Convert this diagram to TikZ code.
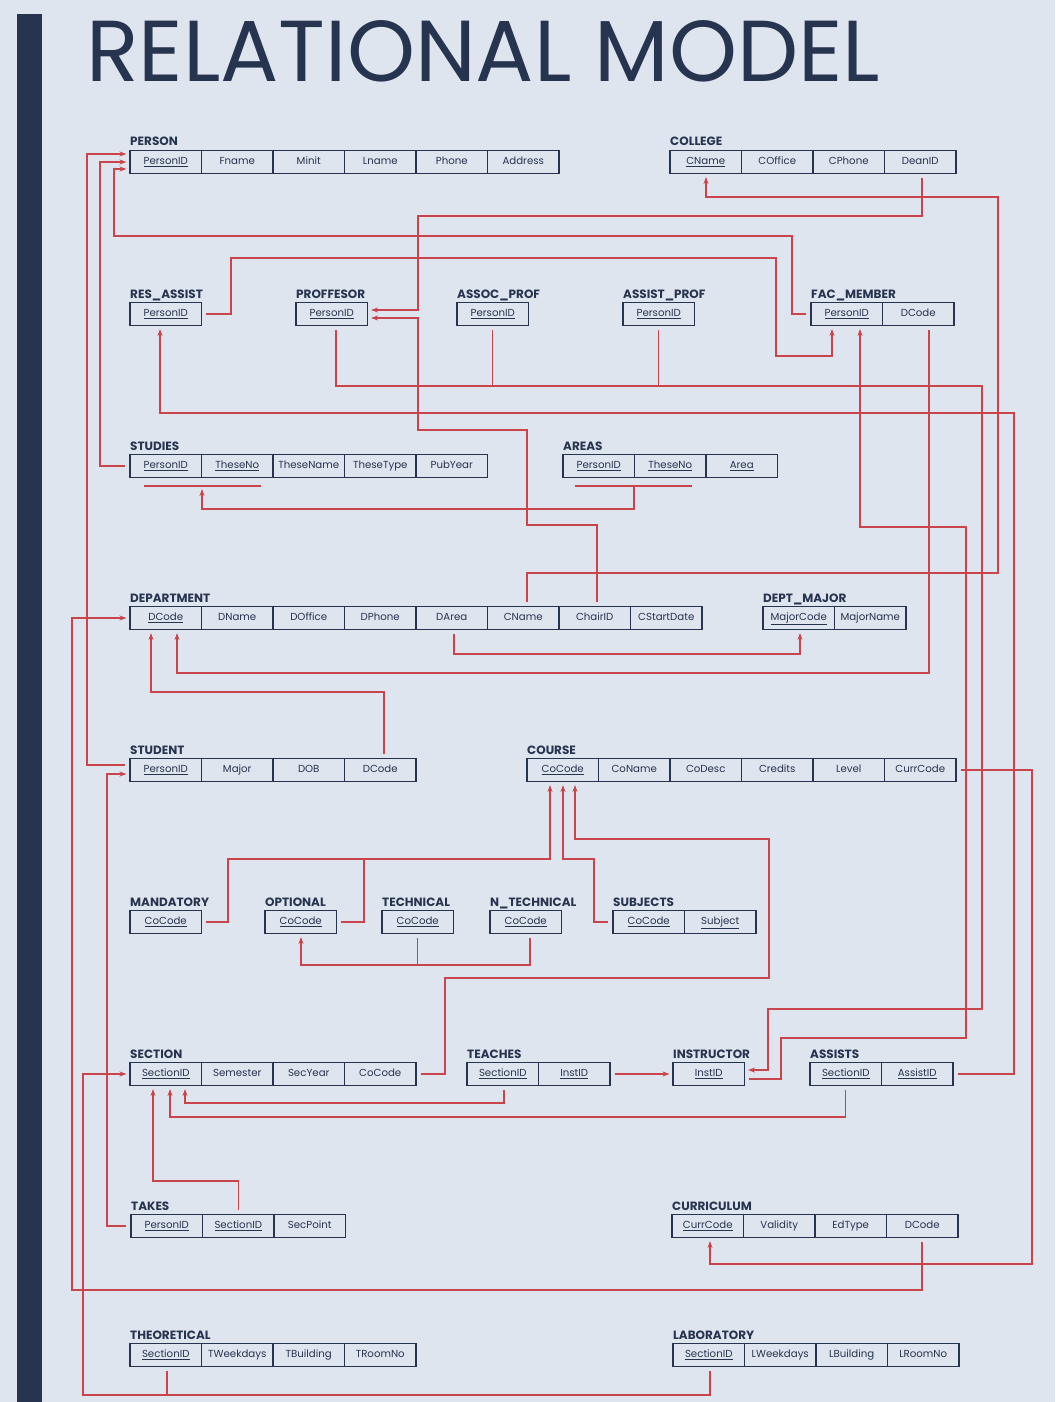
\documentclass[tikz,border=0pt]{standalone}
\usepackage{fontspec}
\setmainfont{Poppins}
\usetikzlibrary{arrows.meta}
\definecolor{bg}{HTML}{DFE5EF}
\definecolor{ink}{HTML}{27344F}
\definecolor{fkred}{HTML}{C9454B}
\newcommand\ulk[1]{\underline{#1}}
\newcommand\mktable[5]{%
  \node[tlabel] (#1-t) at (#2,#3-16) {#4};
  \foreach \f [count=\i] in {#5} {
    \node[cell] (#1-\i) at ({#2+(\i-0.5)*71.5},#3) {\f};
  }
}
\tikzset{
  cell/.style={draw=ink, line width=1.1pt, minimum width=71.5pt, minimum height=23pt,
    inner sep=0pt, text=ink, text height=7.5pt, text depth=2.5pt, font=\fontsize{10.2}{12}\selectfont},
  tlabel/.style={anchor=base west, inner sep=0pt, text=ink, font=\fontsize{12}{14}\selectfont\bfseries},
  fk/.style={draw=fkred, line width=1.2pt, shorten <=4pt, shorten >=3pt},
  ar/.style={fk, -{Stealth[length=7pt,width=5pt]}},
  ln/.style={draw=fkred, line width=1.2pt}
}
\begin{document}
\begin{tikzpicture}[x=1pt,y=-1pt]
\useasboundingbox (0,0) rectangle (1055,1402);
\fill[bg] (0,0) rectangle (1055,1402);
\fill[ink] (17,14) rectangle (42,1402);
\node[anchor=south west, inner sep=0pt, text=ink] (title) at (86,82)
  {\resizebox{794pt}{!}{\fontsize{80}{80}\selectfont RELATIONAL MODEL}};

\mktable{PERSON}{130}{162}{PERSON}{\ulk{PersonID},Fname,Minit,Lname,Phone,Address}
\mktable{COLLEGE}{670}{162}{COLLEGE}{\ulk{CName},COffice,CPhone,DeanID}
\mktable{RES}{130}{314}{RES\_ASSIST}{\ulk{PersonID}}
\mktable{PROF}{296}{314}{PROFFESOR}{\ulk{PersonID}}
\mktable{ASSOC}{457}{314}{ASSOC\_PROF}{\ulk{PersonID}}
\mktable{ASSIST}{623}{314}{ASSIST\_PROF}{\ulk{PersonID}}
\mktable{FAC}{811}{314}{FAC\_MEMBER}{\ulk{PersonID},DCode}
\mktable{STUDIES}{130}{466}{STUDIES}{\ulk{PersonID},\ulk{TheseNo},TheseName,TheseType,PubYear}
\mktable{AREAS}{563}{466}{AREAS}{\ulk{PersonID},\ulk{TheseNo},\ulk{Area}}
\mktable{DEPT}{130}{618}{DEPARTMENT}{\ulk{DCode},DName,DOffice,DPhone,DArea,CName,ChairID,CStartDate}
\mktable{DM}{763}{618}{DEPT\_MAJOR}{\ulk{MajorCode},MajorName}
\mktable{STUDENT}{130}{770}{STUDENT}{\ulk{PersonID},Major,DOB,DCode}
\mktable{COURSE}{527}{770}{COURSE}{\ulk{CoCode},CoName,CoDesc,Credits,Level,CurrCode}
\mktable{MAND}{130}{922}{MANDATORY}{\ulk{CoCode}}
\mktable{OPT}{265}{922}{OPTIONAL}{\ulk{CoCode}}
\mktable{TECH}{382}{922}{TECHNICAL}{\ulk{CoCode}}
\mktable{NTECH}{490}{922}{N\_TECHNICAL}{\ulk{CoCode}}
\mktable{SUBJ}{613}{922}{SUBJECTS}{\ulk{CoCode},\ulk{Subject}}
\mktable{SEC}{130}{1074}{SECTION}{\ulk{SectionID},Semester,SecYear,CoCode}
\mktable{TEACH}{467}{1074}{TEACHES}{\ulk{SectionID},\ulk{InstID}}
\mktable{INSTR}{673}{1074}{INSTRUCTOR}{\ulk{InstID}}
\mktable{ASSISTS}{810}{1074}{ASSISTS}{\ulk{SectionID},\ulk{AssistID}}
\mktable{TAKES}{131}{1226}{TAKES}{\ulk{PersonID},\ulk{SectionID},SecPoint}
\mktable{CURR}{672}{1226}{CURRICULUM}{\ulk{CurrCode},Validity,EdType,DCode}
\mktable{THEO}{130}{1355}{THEORETICAL}{\ulk{SectionID},TWeekdays,TBuilding,TRoomNo}
\mktable{LAB}{673}{1355}{LABORATORY}{\ulk{SectionID},LWeekdays,LBuilding,LRoomNo}

% STUDENT -> PERSON
\draw[ar] (STUDENT-1.west |- 0,765) -- (87,765) -- (87,154) -- (PERSON-1.west |- 0,154);
% STUDIES -> PERSON
\draw[ar] (STUDIES-1.west) -- (100,466) -- (100,162) -- (PERSON-1.west);
% FAC_MEMBER -> PERSON
\draw[ar] (FAC-1.west) -- (792,314) -- (792,236) -- (114,236) -- (114,169) -- (PERSON-1.west |- 0,169);
% RES_ASSIST -> FAC_MEMBER
\draw[ar] (RES-1.east) -- (231,314) -- (231,258) -- (776,258) -- (776,356) -- (832,356) -- (FAC-1.south -| 832,0);
% DeanID -> PROFFESOR
\draw[ar] (COLLEGE-4.south -| 922,0) -- (922,216) -- (418,216) -- (418,310) -- (PROF-1.east |- 0,310);
% ChairID -> PROFFESOR
\draw[ar] (DEPT-7.north -| 597,0) -- (597,525) -- (527,525) -- (527,430) -- (418,430) -- (418,318) -- (PROF-1.east |- 0,318);
% DEPT.CName -> COLLEGE.CName
\draw[ar] (DEPT-6.north -| 527,0) -- (527,573) -- (998,573) -- (998,197) -- (706,197) -- (COLLEGE-1.south -| 706,0);
% PROFFESOR / ASSOC / ASSIST -> INSTRUCTOR
\draw[ar] (PROF-1.south -| 336,0) -- (336,386) -- (982,386) -- (982,1009) -- (768,1009) -- (768,1070) -- (INSTR-1.east |- 0,1070);
\draw[fk, shorten >=0pt] (ASSOC-1.south) -- (ASSOC-1.south |- 0,386);
\draw[fk, shorten >=0pt] (ASSIST-1.south) -- (ASSIST-1.south |- 0,386);
% INSTRUCTOR -> FAC_MEMBER
\draw[ar] (INSTR-1.east |- 0,1079) -- (781,1079) -- (781,1038) -- (966,1038) -- (966,527) -- (860,527) -- (FAC-1.south -| 860,0);
% ASSISTS -> RES_ASSIST
\draw[ar] (ASSISTS-2.east) -- (1014,1074) -- (1014,413) -- (160,413) -- (RES-1.south -| 160,0);
% FAC.DCode -> DEPT.DCode
\draw[ar] (FAC-2.south -| 929,0) -- (929,673) -- (177,673) -- (DEPT-1.south -| 177,0);
% STUDENT.DCode -> DEPT.DCode
\draw[ar] (STUDENT-4.north -| 384,0) -- (384,692) -- (151,692) -- (DEPT-1.south -| 151,0);
% DArea -> MajorCode
\draw[ar] (DEPT-5.south -| 454,0) -- (454,654) -- (800,654) -- (DM-1.south -| 800,0);
% AREAS -> STUDIES
\coordinate (stuU) at (202,486);
\coordinate (areU) at (634,486);
\draw[ln] (144,486) -- (261,486);
\draw[ln] (575,486) -- (692,486);
\draw[ar, shorten <=0pt] (areU) -- (634,509) -- (202,509) -- (stuU);
% CURRICULUM.DCode -> DEPT.DCode
\draw[ar] (CURR-4.south -| 922,0) -- (922,1290) -- (72,1290) -- (72,618) -- (DEPT-1.west);
% COURSE.CurrCode -> CURRICULUM.CurrCode
\draw[ar] (COURSE-6.east) -- (1032,770) -- (1032,1264) -- (710,1264) -- (CURR-1.south -| 710,0);
% MANDATORY / OPTIONAL -> COURSE
\draw[ar] (MAND-1.east) -- (228,922) -- (228,859) -- (550,859) -- (COURSE-1.south -| 550,0);
\draw[fk, shorten >=0pt] (OPT-1.east) -- (364,922) -- (364,859);
% TECHNICAL / N_TECHNICAL -> OPTIONAL
\draw[fk, shorten >=0pt] (TECH-1.south) -- (TECH-1.south |- 0,965);
\draw[ar] (NTECH-1.south -| 530,0) -- (530,965) -- (301,965) -- (OPT-1.south -| 301,0);
% SUBJECTS -> COURSE
\draw[ar] (SUBJ-1.west) -- (594,922) -- (594,859) -- (563,859) -- (COURSE-1.south -| 563,0);
% SECTION.CoCode -> COURSE
\draw[ar] (SEC-4.east) -- (445,1074) -- (445,978) -- (769,978) -- (769,839) -- (575,839) -- (COURSE-1.south -| 575,0);
% THEORETICAL / LABORATORY -> SECTION
\draw[ar] (LAB-1.south -| 710,0) -- (710,1395) -- (83,1395) -- (83,1074) -- (SEC-1.west);
\draw[fk, shorten >=0pt] (THEO-1.south -| 167,0) -- (167,1395);
% TEACHES -> SECTION
\draw[ar] (TEACH-1.south -| 504,0) -- (504,1103) -- (185,1103) -- (SEC-1.south -| 185,0);
% ASSISTS -> SECTION
\draw[ar] (ASSISTS-1.south) -- (ASSISTS-1.south |- 0,1117) -- (170,1117) -- (SEC-1.south -| 170,0);
% TAKES -> SECTION
\draw[ar] (TAKES-2.north) -- (TAKES-2.north |- 0,1181) -- (153,1181) -- (SEC-1.south -| 153,0);
% TEACHES.InstID -> INSTRUCTOR
\draw[ar] (TEACH-2.east) -- (INSTR-1.west);
% TAKES -> STUDENT
\draw[ar] (TAKES-1.west) -- (107,1226) -- (107,774) -- (STUDENT-1.west |- 0,774);
\end{tikzpicture}
\end{document}
